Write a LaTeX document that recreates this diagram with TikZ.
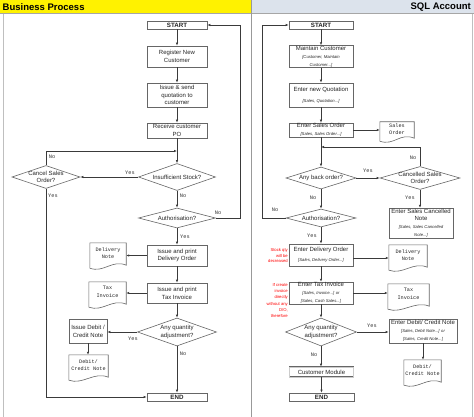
\documentclass[tikz,border=0pt]{standalone}
\usepackage{fontspec}
\setmainfont{Liberation Sans}
\newfontfamily\monof{Liberation Mono}
\usetikzlibrary{shapes.geometric,arrows.meta,calc}
\definecolor{hdryellow}{HTML}{FFF200}
\definecolor{hdrblue}{HTML}{DCE3EC}
\definecolor{lnc}{HTML}{3A3A3A}
\definecolor{bdc}{HTML}{666666}
\newcommand\fsz[2]{\fontsize{#1}{#2}\selectfont}
\newcommand\subf{\itshape\fontsize{4.2}{5.3}\selectfont}
\newcommand\docwave[1]{\draw[docl] (#1.north west) -- (#1.north east) -- ([yshift=-2pt]#1.south east) .. controls ([xshift=-14pt,yshift=4pt]#1.south east) and ([xshift=14pt,yshift=-10pt]#1.south west) .. ([yshift=-5pt]#1.south west) -- cycle;}
\begin{document}
\begin{tikzpicture}[x=1pt,y=-1pt,
  box/.style={draw=bdc, line width=0.6pt, fill=white, align=center, inner sep=0.5pt, font=\fsz{6}{7.8}, text=black!85},
  termbox/.style={box, font=\bfseries\fsz{6.2}{7}, minimum height=8pt},
  dia/.style={shape=diamond, draw=bdc, line width=0.6pt, inner sep=0pt, fill=white},
  diatext/.style={font=\fsz{6}{7.6}, align=center, inner sep=0pt, text=black!85},
  doc/.style={draw=none, align=center, font=\monof\fsz{5.2}{7.5}, inner sep=0pt, text=black!85},
  docl/.style={draw=bdc, line width=0.6pt},
  conn/.style={draw=lnc, line width=0.6pt},
  arr/.style={conn, -{Latex[length=3pt,width=2.4pt]}},
  yn/.style={font=\monof\fsz{5.3}{6}, inner sep=0pt, text=black!80},
  rednote/.style={text=red, font=\fsz{4.2}{5.4}, align=right, anchor=east, inner sep=0pt}
]
\useasboundingbox (0,0) rectangle (474,417);
\fill[white] (0,0) rectangle (474,417);
% header
\fill[hdryellow] (0,0) rectangle (250.5,13);
\fill[hdrblue] (251.5,0) rectangle (474,13);
\draw[gray!70, line width=0.8pt] (0,13.5) -- (474,13.5);
\draw[gray!80, line width=1pt] (251,0) -- (251,417);
\draw[gray!50, line width=0.6pt] (3,14) -- (3,417);
\draw[gray!50, line width=0.6pt] (472,14) -- (472,417);
\node[font=\bfseries\fsz{9.5}{11}, anchor=west, inner sep=0pt] (hbp) at (2.5,7) {Business Process};
\node[font=\bfseries\fsz{9.5}{11}, anchor=east, inner sep=0pt] (hsql) at (471,7) {SQL Account};

% ---------------- left panel
\node[termbox, minimum width=60pt] (ls) at (177,25) {START};
\node[box, minimum width=60pt, minimum height=21pt] (lreg) at (177,56.5) {Register New\\Customer};
\node[box, minimum width=60pt, minimum height=24pt] (lquo) at (177,95) {Issue \& send\\quotation to\\customer};
\node[box, minimum width=60pt, minimum height=15pt] (lpo) at (177,130.5) {Receive customer\\PO};
\node[dia, minimum width=77pt, minimum height=27pt] (lins) at (177,177) {};
\node[diatext] (linst) at (177,177) {Insufficient Stock?};
\node[dia, minimum width=68pt, minimum height=23pt] (lcan) at (46,177) {};
\node[diatext] (lcant) at (46,177) {Cancel Sales\\Order?};
\node[dia, minimum width=77pt, minimum height=20pt] (lauth) at (177,218) {};
\node[diatext] (lautht) at (177,218) {Authorisation?};
\node[box, minimum width=60pt, minimum height=21pt] (ldo) at (177,255.5) {Issue and print\\Delivery Order};
\node[doc, minimum width=36pt, minimum height=20pt] (ldn) at (108,253) {Delivery\\Note};
\docwave{ldn}
\node[box, minimum width=60pt, minimum height=20pt] (lti) at (177,293) {Issue and print\\Tax Invoice};
\node[doc, minimum width=37pt, minimum height=20pt] (ltid) at (107.5,292) {Tax\\Invoice};
\docwave{ltid}
\node[dia, minimum width=79pt, minimum height=28pt] (lqty) at (177,332) {};
\node[diatext] (lqtyt) at (177,332) {Any quantity\\adjustment?};
\node[box, minimum width=38pt, minimum height=24pt] (ldcn) at (88,331) {Issue Debit /\\Credit Note};
\node[doc, minimum width=39pt, minimum height=20pt] (ldcd) at (88.5,365) {Debit/\\Credit Note};
\docwave{ldcd}
\node[termbox, minimum width=60pt] (le) at (177,397) {END};
\coordinate (lm) at (177,151);
\coordinate (lcorner) at (240,25);

\draw[arr] (ls.south) -- (lreg.north);
\draw[arr] (lreg.south) -- (lquo.north);
\draw[arr] (lquo.south) -- (lpo.north);
\draw[arr] (lpo.south) -- (lins.north);
\draw[arr] (lcan.north) |- (lm);
\draw[arr] (lins.west) -- (lcan.east);
\draw[arr] (lins.south) -- (lauth.north);
\draw[arr] (lauth.east) -| (lcorner) -- (ls.east);
\draw[arr] (lauth.south) -- (ldo.north);
\draw[arr] (ldo.west) -- (ldo.west -| ldn.east);
\draw[arr] (ldo.south) -- (lti.north);
\draw[arr] (lti.west) -- (lti.west -| ltid.east);
\draw[arr] (lti.south) -- (lqty.north);
\draw[arr] (lqty.west) -- (lqty.west -| ldcn.east);
\draw[arr] (ldcn.south) -- (ldcn.south |- ldcd.north);
\draw[arr] (lqty.south) -- (le.north);
\draw[arr] (lcan.south) |- (le.west);

\node[yn] (lyn1) at (52,157) {No};
\node[yn] (lyn2) at (130,173) {Yes};
\node[yn] (lyn3) at (53,196) {Yes};
\node[yn] (lyn4) at (183,196) {No};
\node[yn] (lyn5) at (218,213) {No};
\node[yn] (lyn6) at (185,237) {Yes};
\node[yn] (lyn7) at (133,339) {Yes};
\node[yn] (lyn8) at (183,354) {No};

% ---------------- right panel
\node[termbox, minimum width=64pt] (rs) at (321,25) {START};
\node[box, minimum width=64pt, minimum height=21pt] (rmc) at (321,56.5) {Maintain Customer\\\subf [Customer, Maintain\\\subf Customer...]};
\node[box, minimum width=64pt, minimum height=24pt] (rq) at (321,95) {Enter new Quotation\\[3pt]\subf [Sales, Quotation...]};
\node[box, minimum width=64pt, minimum height=14pt] (rso) at (321,130) {Enter Sales Order\\\subf [Sales, Sales Order...]};
\node[doc, minimum width=34pt, minimum height=14pt] (rsod) at (397,129) {Sales\\Order};
\docwave{rsod}
\node[dia, minimum width=70pt, minimum height=22pt] (rabo) at (321,178) {};
\node[diatext] (rabot) at (321,178) {Any back order?};
\node[dia, minimum width=80pt, minimum height=23pt] (rcso) at (420,178) {};
\node[diatext] (rcsot) at (420,178) {Cancelled Sales\\Order?};
\node[box, minimum width=64pt, minimum height=28pt] (rscn) at (421,223) {Enter Sales Cancelled\\Note\\\subf [Sales, Sales Cancelled\\\subf Note...]};
\node[dia, minimum width=70pt, minimum height=18pt] (rauth) at (321,218) {};
\node[diatext] (rautht) at (321,218) {Authorisation?};
\node[box, minimum width=64pt, minimum height=22pt] (rdo) at (321,255) {Enter Delivery Order\\[2pt]\subf [Sales, Delivery Order...]};
\node[doc, minimum width=38pt, minimum height=20pt] (rdn) at (408,255) {Delivery\\Note};
\docwave{rdn}
\node[box, minimum width=64pt, minimum height=20pt] (rti) at (321,293) {Enter Tax Invoice\\\subf [Sales, Invoice...] or\\\subf [Sales, Cash Sales...]};
\node[doc, minimum width=41pt, minimum height=20pt] (rtid) at (408.5,294) {Tax\\Invoice};
\docwave{rtid}
\node[dia, minimum width=71pt, minimum height=28pt] (rqty) at (321,332) {};
\node[diatext] (rqtyt) at (321,332) {Any quantity\\adjustment?};
\node[box, minimum width=68pt, minimum height=24pt] (rdcn) at (423,331) {Enter Debit/ Credit Note\\\subf [Sales, Debit Note...] or\\\subf [Sales, Credit Note...]};
\node[doc, minimum width=37pt, minimum height=20pt] (rdcd) at (422.5,370) {Debit/\\Credit Note};
\docwave{rdcd}
\node[box, minimum width=64pt, minimum height=10pt, double=gray!40, double distance=0.5pt] (rcm) at (321.5,372) {Customer Module};
\node[termbox, minimum width=65pt] (re) at (321.5,397) {END};
\coordinate (rm) at (321,147);
\coordinate (rcorner) at (262,25);

\draw[arr] (rs.south) -- (rmc.north);
\draw[arr] (rmc.south) -- (rq.north);
\draw[arr] (rq.south) -- (rso.north);
\draw[arr] (rso.east) -- (rso.east -| rsod.west);
\draw[arr] (rso.south) -- (rabo.north);
\draw[arr] (rcso.north) |- (rm);
\draw[arr] (rabo.east) -- (rcso.west);
\draw[arr] (rcso.south) -- (rcso.south |- rscn.north);
\draw[arr] (rabo.south) -- (rauth.north);
\draw[arr] (rauth.west) -| (rcorner) -- (rs.west);
\draw[arr] (rauth.south) -- (rdo.north);
\draw[arr] ([yshift=-3pt]rdo.east) -- ([yshift=-3pt]rdo.east -| rdn.west);
\draw[arr] (rdo.south) -- (rti.north);
\draw[arr] (rti.east) -- (rti.east -| rtid.west);
\draw[arr] (rti.south) -- (rqty.north);
\draw[arr] (rqty.east) -- (rqty.east -| rdcn.west);
\draw[arr] (rdcn.south) -- (rdcn.south |- rdcd.north);
\draw[arr] (rqty.south) -- (rqty.south |- rcm.north);
\draw[arr] (rcm.south) -- (re.north);

\node[yn] (ryn1) at (413,158) {No};
\node[yn] (ryn2) at (368,171) {Yes};
\node[yn] (ryn3) at (410,198) {Yes};
\node[yn] (ryn4) at (313,198) {No};
\node[yn] (ryn5) at (275,210) {No};
\node[yn] (ryn6) at (312,236) {Yes};
\node[yn] (ryn7) at (372,326) {Yes};
\node[yn] (ryn8) at (314,355) {No};

\node[rednote] (rn1) at (288,255.5) {Stock qty\\will be\\decreased};
\node[rednote, font=\fsz{4.2}{6.1}] (rn2) at (288,300.5) {If create\\invoice\\directly\\without any\\D/O,\\therefore};
\end{tikzpicture}
\end{document}
